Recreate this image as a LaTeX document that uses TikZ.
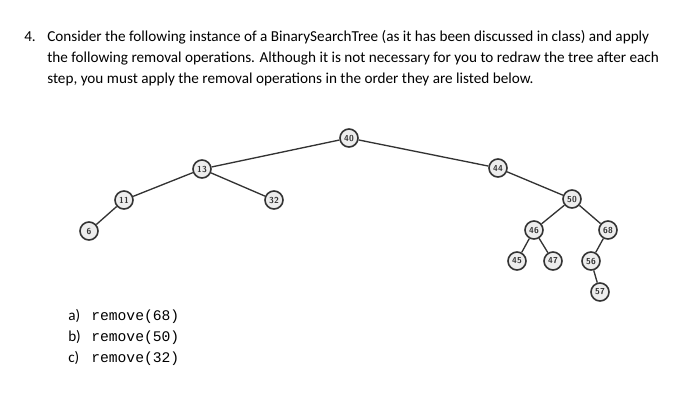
\documentclass[tikz,border=0pt]{standalone}
\usepackage{fontspec}
\setmainfont{Carlito}
\setmonofont{Liberation Mono}
\usetikzlibrary{positioning}

\begin{document}
\begin{tikzpicture}
	[
		x=0.75pt, y=-0.75pt,
		every node/.style={inner sep=0pt},
		bstnode/.style={circle, draw=black!80, fill=black!7, line width=1.2pt, minimum size=13.5pt, font=\sffamily\bfseries\fontsize{6.5}{7}\selectfont, text=black!80},
		bstedge/.style={draw=black!80, line width=1pt},
		textline/.style={anchor=base west, font=\fontsize{11.4}{13}\selectfont}
	]
	\useasboundingbox (0,0) rectangle (687,412);

	\node(num) [textline] at (24,41) {4.};
	\node(line1) [textline] at (47,41) {Consider the following instance of a BinarySearchTree (as it has been discussed in class) and apply};
	\node(line2) [textline] at (47,62) {the following removal operations. Although it is not necessary for you to redraw the tree after each};
	\node(line3) [textline] at (47,83) {step, you must apply the removal operations in the order they are listed below.};

	\foreach \k/\x/\y in {40/349/138, 13/202/169, 11/124/200, 6/89/231, 32/274/200, 44/498/168, 50/572/199, 46/534/230, 68/608/230, 45/517/261, 47/553/261, 56/591/261, 57/600/292}
		\node(n\k) [bstnode] at (\x,\y) {\k};

	\foreach \a/\b in {40/13, 13/11, 11/6, 13/32, 40/44, 44/50, 50/46, 50/68, 46/45, 46/47, 68/56, 56/57}
		\draw[bstedge] (n\a) -- (n\b);

%	removal operations
	\foreach \i/\v/\y in {a/68/320, b/50/341, c/32/362} {
		\node(lbl\i) [textline] at (68,\y) {\i)};
		\node(op\i) [textline, font=\fontsize{11}{13}\selectfont] at (91,\y) {\texttt{remove(\v)}};
	};
\end{tikzpicture}
\end{document}
